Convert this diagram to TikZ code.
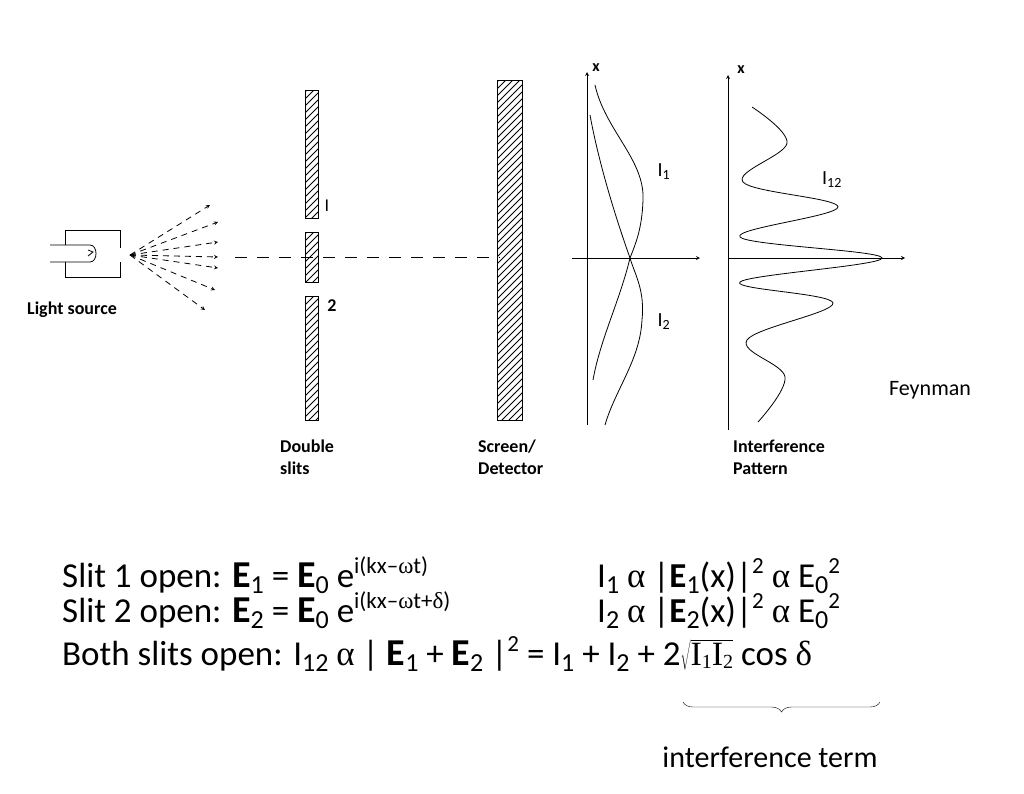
\documentclass[tikz,border=0pt]{standalone}
\usepackage{fontspec}
\setmainfont{Carlito}
\newfontfamily\grk{Liberation Serif}
\usetikzlibrary{decorations.pathreplacing}
\newcommand{\lo}[1]{\raisebox{-0.18em}{\fontsize{26}{26}\selectfont #1}}
\newcommand{\hi}[1]{\raisebox{0.38em}{\fontsize{23}{23}\selectfont #1}}
\newcommand{\bE}{{\fontsize{38}{38}\selectfont\textbf{E}}}
\newcommand{\hatchrect}[4]{%
  \begin{scope}\clip (#1,#2) rectangle (#3,#4);
  \foreach \k in {-40,-33,...,440} \draw[thick] (#1,#2+\k) -- ++(40,-40);
  \end{scope}
  \draw[thick] (#1,#2) rectangle (#3,#4);}
\begin{document}
\begin{tikzpicture}[x=1pt,y=-1pt,
  lbl/.style={font=\fontsize{18}{22}\selectfont\bfseries,align=left,inner sep=0},
  eq/.style={font=\fontsize{35}{40}\selectfont,anchor=base west,inner sep=0},
  ray/.style={dashed,dash pattern=on 6pt off 5pt,-stealth,thick},
  curve/.style={thick},
  ax/.style={thick,-stealth}]
\useasboundingbox (0,0) rectangle (1024,793);
% light source
\draw[thick] (120,248) -- (120,230) -- (65,230) -- (65,245);
\draw[thick] (65,262) -- (65,277) -- (120,277) -- (120,262);
\draw[thick] (50,245) -- (90,245) .. controls (98,245) and (98,262) .. (90,262) -- (50,262);
\draw[thick] (88,250) -- (93,252) -- (88,256);
\coordinate (src) at (130,255);
\foreach \x/\y [count=\i] in {210/205,218/222,218/242,218/257,218/268,215/290,205/310}
  \coordinate (r\i) at (\x,\y);
\foreach \i in {1,...,7} \draw[ray] (src) -- (r\i);
\coordinate (d1) at (235,257); \coordinate (d2) at (500,257);
\draw[dashed,dash pattern=on 12pt off 10pt,thick] (d1) -- (d2);
% slits
\hatchrect{305}{90}{318}{218}
\hatchrect{305}{232}{318}{282}
\hatchrect{305}{296}{318}{420}
\node[font=\fontsize{18}{22}\selectfont] (s1) at (327,206) {I};
\node[font=\fontsize{18}{22}\selectfont\bfseries] (s2) at (332,306) {2};
% screen
\hatchrect{497}{80}{522}{420}
% graph 1
\coordinate (a1b) at (587,425); \coordinate (a1t) at (587,72);
\draw[ax] (a1b) -- (a1t);
\node[font=\fontsize{16}{18}\selectfont\bfseries] (x1) at (596,68) {x};
\coordinate (h1l) at (572,258); \coordinate (h1r) at (700,258);
\draw[ax] (h1l) -- (h1r);
\draw[curve] (595,85) .. controls (605,130) and (645,160) .. (643,200) .. controls (642,230) and (635,245) .. (630,258) .. controls (620,300) and (600,340) .. (593,380);
\draw[curve] (590,115) .. controls (600,170) and (620,230) .. (630,258) .. controls (635,275) and (645,290) .. (642,320) .. controls (640,360) and (615,390) .. (605,425);
\node[font=\fontsize{20}{24}\selectfont] (I1) at (664,172) {I\textsubscript{1}};
\node[font=\fontsize{20}{24}\selectfont] (I2) at (664,322) {I\textsubscript{2}};
% graph 2
\coordinate (a2b) at (728,430); \coordinate (a2t) at (728,75);
\draw[ax] (a2b) -- (a2t);
\node[font=\fontsize{16}{18}\selectfont\bfseries] (x2) at (741,70) {x};
\coordinate (h2l) at (728,258); \coordinate (h2r) at (905,258);
\draw[ax] (h2l) -- (h2r);
\draw[curve] plot[smooth,tension=0.6] coordinates {(752,107) (787,143) (743,182) (838,207) (740,237) (882,258) (740,282) (833,303) (747,340) (785,377) (758,422)};
\node[font=\fontsize{20}{24}\selectfont] (I12) at (832,180) {I\textsubscript{12}};
\node[font=\fontsize{22}{26}\selectfont] (fey) at (930,390) {Feynman};
% labels
\node[lbl,anchor=west] (ls) at (27,310) {Light source};
\node[lbl,anchor=north west] (ds) at (280,440) {Double\\slits};
\node[lbl,anchor=north west] (sd) at (478,440) {Screen/\\Detector};
\node[lbl,anchor=north west] (ip) at (733,440) {Interference\\Pattern};
% equations
\node[eq] (e1) at (62,587) {Slit 1 open: \bE\lo{1} = \bE\lo{0} e\hi{i(kx–{\grk ω}t)}};
\node[eq] (e2) at (62,622) {Slit 2 open: \bE\lo{2} = \bE\lo{0} e\hi{i(kx–{\grk ω}t+{\grk δ})}};
\node[eq] (e1r) at (597,587) {I\lo{1} {\grk α} |\textbf{E}\lo{1}(x)|\hi{2} {\grk α} E\lo{0}\hi{2}};
\node[eq] (e2r) at (597,622) {I\lo{2} {\grk α} |\textbf{E}\lo{2}(x)|\hi{2} {\grk α} E\lo{0}\hi{2}};
\node[eq] (e3) at (62,665) {Both slits open: I\lo{12} {\grk α} | \bE\lo{1} + \bE\lo{2} |\hi{2} = I\lo{1} + I\lo{2} + 2$\sqrt{\hbox{\fontsize{34}{34}\selectfont\grk I\raisebox{-0.1em}{\fontsize{20}{20}\selectfont 1}I\raisebox{-0.1em}{\fontsize{20}{20}\selectfont 2}}}$ cos {\grk δ}};
\coordinate (b1) at (880,702); \coordinate (b2) at (683,702);
\draw[decorate,decoration={brace,amplitude=10pt}] (b1) -- (b2);
\node[font=\fontsize{30}{36}\selectfont] (it) at (770,757) {interference term};
\end{tikzpicture}
\end{document}
